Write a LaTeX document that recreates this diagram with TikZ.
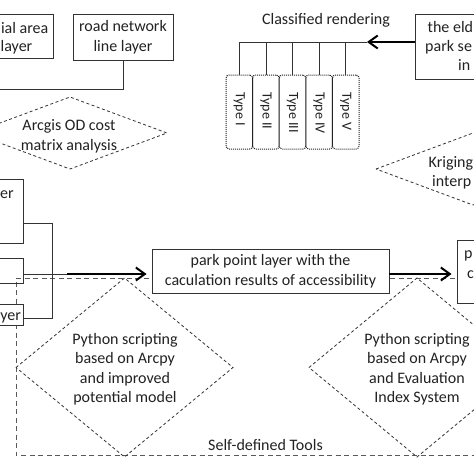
\documentclass[tikz,border=0pt]{standalone}
\usepackage{fontspec}
\setmainfont{Carlito}
\usetikzlibrary{arrows.meta}
\definecolor{ln}{HTML}{333333}
\definecolor{tx}{HTML}{222222}
\begin{document}
\begin{tikzpicture}[x=1pt,y=-1pt,
  box/.style={draw=ln,line width=0.9pt,inner sep=0pt,align=center,text=tx,font=\fontsize{16}{20}\selectfont},
  txt/.style={inner sep=0pt,align=center,text=tx,font=\fontsize{16}{20}\selectfont},
  ttxt/.style={inner sep=0pt,text=tx,font=\fontsize{14}{17}\selectfont},
  tbox/.style={draw=tx,line width=1pt,dash pattern=on 1pt off 1pt,rounded corners=3pt,minimum width=26.6pt,minimum height=74pt,inner sep=0pt},
  conn/.style={draw=ln,line width=0.8pt},
  tharr/.style={draw=black,line width=2pt,-{Straight Barb[length=9pt,width=13pt]}},
  ddiam/.style={draw=ln,line width=0.8pt,dash pattern=on 3pt off 2.5pt},
  fdash/.style={draw=black!65,line width=0.8pt,dash pattern=on 5pt off 3.5pt}
]
\fill[white] (0,0) rectangle (474,474);
\useasboundingbox (0,0) rectangle (474,474);

% self-defined tools frame
\draw[fdash] (480,278) -- (16,278) -- (16,455) -- (480,455);
\node[txt,anchor=base] (sdt) at (265.5,450) {Self-defined Tools};

% top-left boxes
\node[box,minimum width=100pt,minimum height=44pt] (A) at (3,36) {};
\node[txt,anchor=base east] (At1) at (48.5,33) {ial area};
\node[txt,anchor=base east] (At2) at (32.5,51) {layer};
\node[box,minimum width=100pt,minimum height=46pt] (B) at (123,37) {road network\\line layer};
\coordinate (bl) at (-5,89);
\draw[conn] (B.south) |- (bl);

% Arcgis diamond
\draw[ddiam] (-27,133) -- (70,97) -- (167,133) -- (70,169) -- cycle;
\node[txt] (arc) at (69,136) {Arcgis OD cost\\matrix analysis};

% top-right box
\node[box,minimum width=98pt,minimum height=65pt] (C) at (464,46.5) {};
\node[txt,anchor=base west] (Ct1) at (427.5,32) {the eld};
\node[txt,anchor=base west] (Ct2) at (425,51) {park se};
\node[txt,anchor=base west] (Ct3) at (458,70) {in};
\node[txt] (cr) at (326,20) {Classified rendering};

% type boxes
\foreach \i/\x/\t in {1/239.3/Type I,2/265.9/Type II,3/292.5/Type III,4/319.1/Type IV,5/345.7/Type V}{
  \node[tbox] (T\i) at (\x,112) {};
  \node[ttxt,rotate=-90,anchor=west] (L\i) at (\x,92) {\t};
}
\coordinate (c1) at (367,42);
\draw[conn] (c1) -- (T1.north |- c1);
\foreach \i in {1,...,5}{\draw[conn] (T\i.north |- c1) -- (T\i.north);}
\draw[tharr] (C.west |- c1) -- (c1);

% Kriging diamond
\draw[ddiam] (376,169) -- (473,133) -- (570,169) -- (473,205) -- cycle;
\node[txt,anchor=base west] (kr1) at (428.5,167) {Kriging};
\node[txt,anchor=base west] (kr2) at (432,186) {interp};

% left boxes
\node[box,minimum width=80pt,minimum height=64pt] (D) at (-17,211) {};
\node[txt,anchor=base east] (Dt) at (13.8,198) {er};
\node[box,minimum width=80pt,minimum height=25pt] (E) at (-17,270.5) {};
\node[box,fill=white,minimum width=80pt,minimum height=21pt] (F) at (-17,314.5) {};
\node[txt,anchor=base west] (Ft) at (0.2,320) {yer};
\coordinate (j1) at (52,223);
\coordinate (j2) at (52,318);
\draw[conn] (D.east |- j1) -- (j1) -- (j2) -- (F.east |- j2);

% python diamonds
\draw[ddiam] (16,367.5) -- (124.5,278) -- (233,367.5) -- (124.5,457) -- cycle;
\node[txt,font=\fontsize{16}{19.5}\selectfont] (py1) at (125,369) {Python scripting\\based on Arcpy\\and improved\\potential model};
\draw[ddiam] (309,367.5) -- (417,278) -- (525,367.5) -- (417,457) -- cycle;
\node[txt,font=\fontsize{16}{19.5}\selectfont] (py2) at (417,369) {Python scripting\\based on Arcpy\\and Evaluation\\Index System};

% middle boxes
\node[box,fill=white,minimum width=237pt,minimum height=44pt] (G) at (270.5,271) {park point layer with the\\caculation results of accessibility};
\node[box,fill=white,minimum width=80pt,minimum height=63pt] (H) at (497,271.5) {};
\node[txt,anchor=base west] (Ht1) at (464,258) {p};
\node[txt,anchor=base west] (Ht2) at (467,278) {c};

\coordinate (m1) at (67,274);
\draw[conn] (E.east |- m1) -- (m1);
\draw[tharr,shorten >=5pt] (m1) -- (G.west |- m1);
\coordinate (g1) at ([yshift=-3pt]G.east);
\draw[tharr,shorten >=5pt] (g1) -- (g1 -| H.west);
\end{tikzpicture}
\end{document}
